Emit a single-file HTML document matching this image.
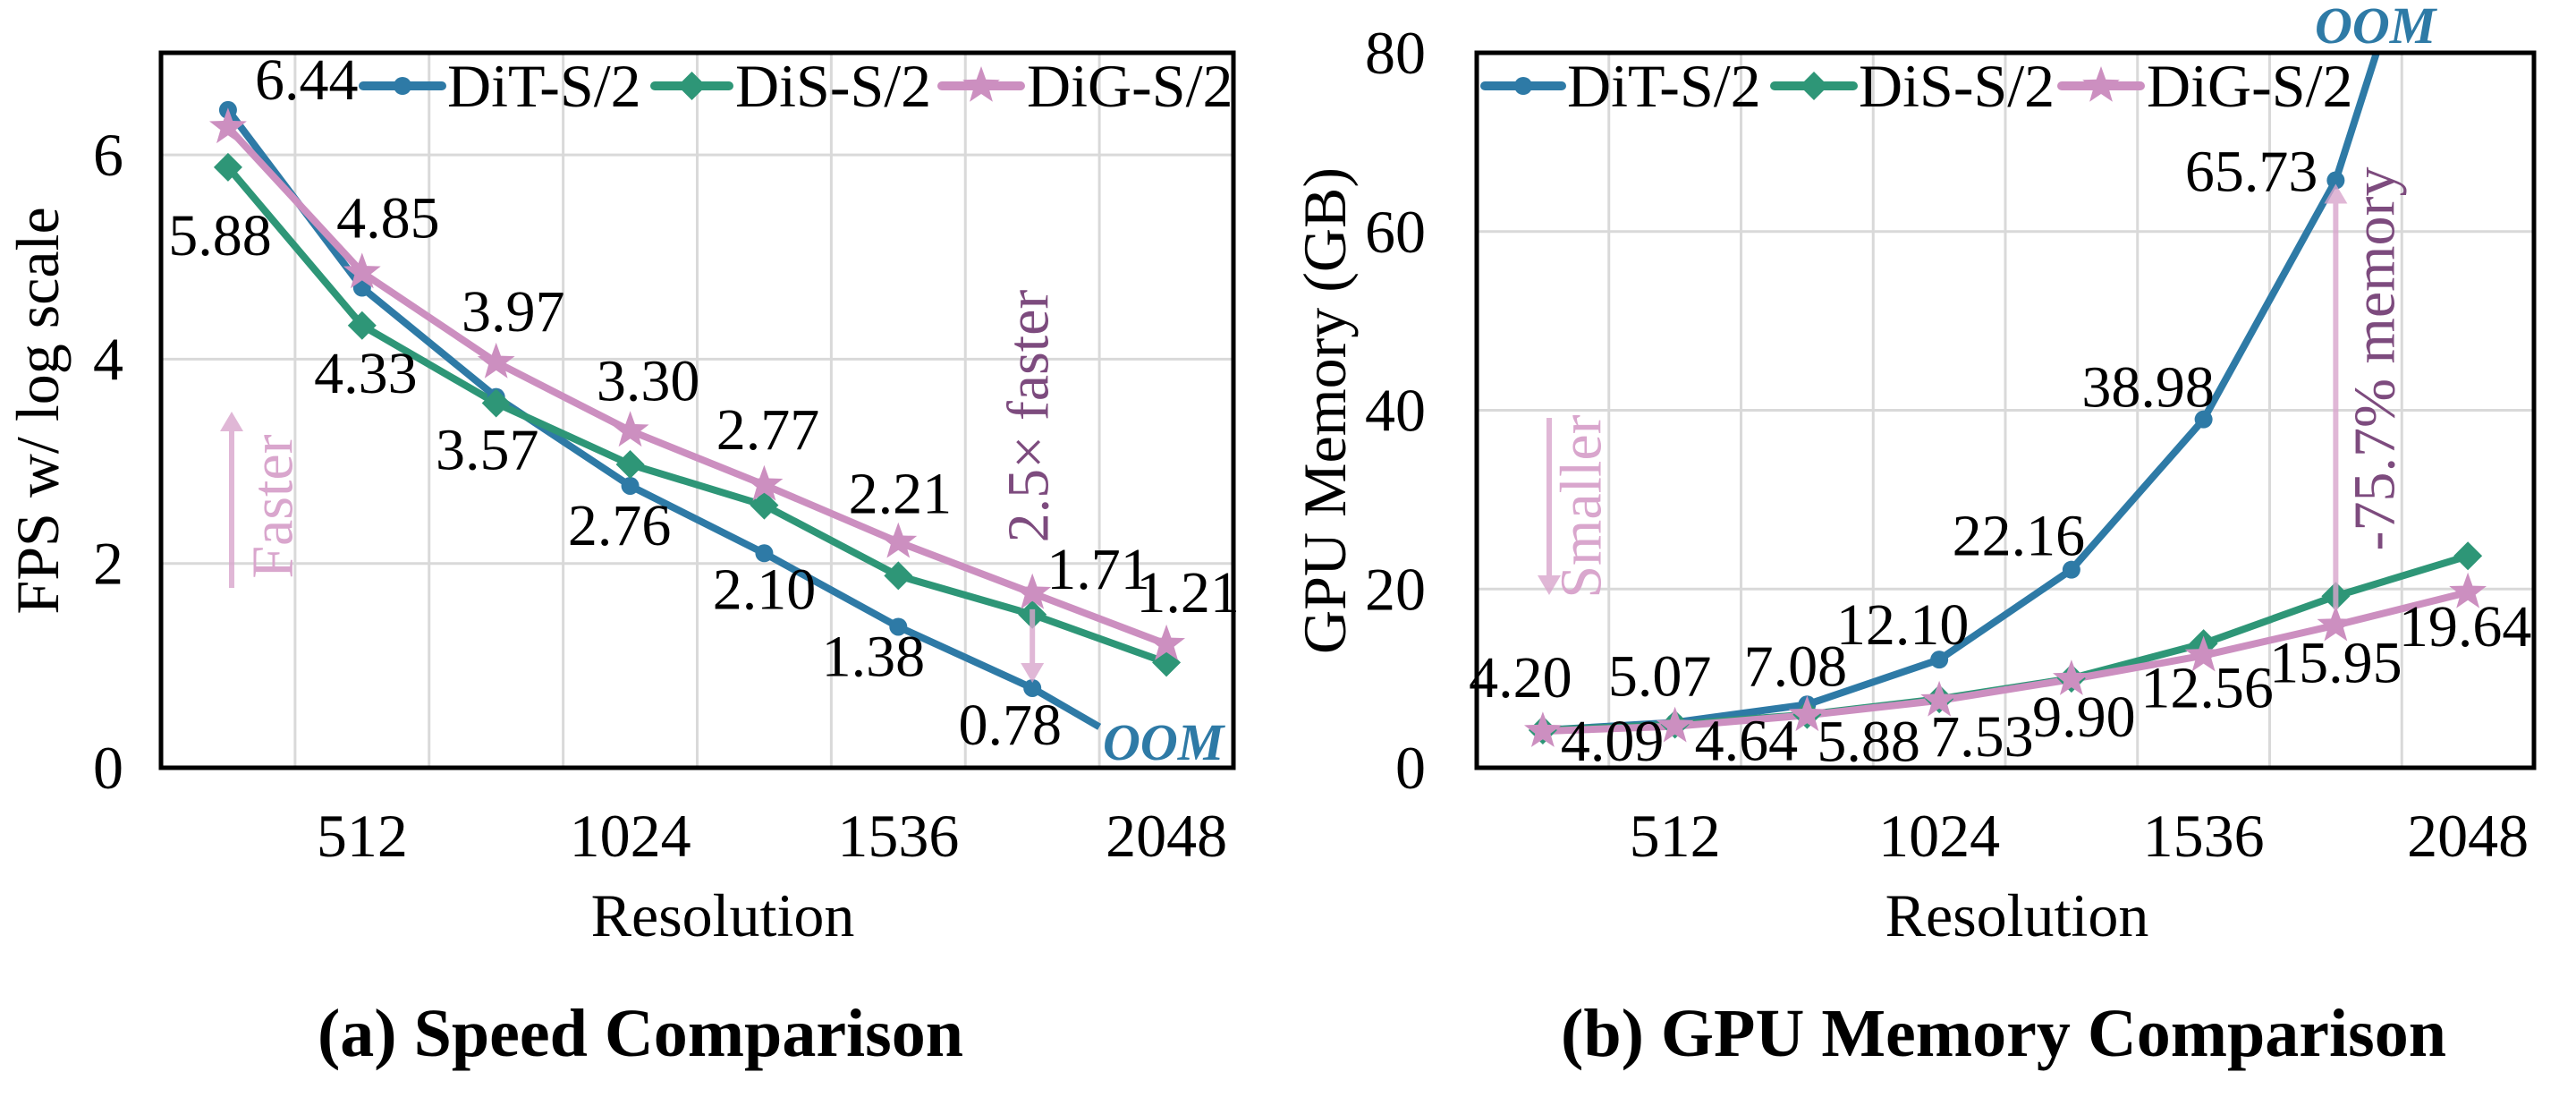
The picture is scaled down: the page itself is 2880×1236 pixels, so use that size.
<!DOCTYPE html>
<html><head><meta charset="utf-8">
<style>
html,body{margin:0;padding:0;background:#fff;}
svg{display:block;}
text{font-family:"Liberation Serif","Times New Roman",serif;}
</style></head>
<body>
<svg id="fig" width="2880" height="1236" viewBox="0 0 2880 1236" xmlns="http://www.w3.org/2000/svg" font-family="Liberation Serif, serif"></svg>
<script>
// ---- data ----
const categories = [256, 512, 768, 1024, 1280, 1536, 1792, 2048];
const xTickLabels = ['', '512', '', '1024', '', '1536', '', '2048'];
const speedTicks = [0, 2, 4, 6];
const memTicks = [0, 20, 40, 60, 80];
const speedDiT = [6.44, 4.70, 3.63, 2.76, 2.10, 1.38, 0.78, null];
const speedDiS = [5.88, 4.33, 3.57, 2.97, 2.57, 1.88, 1.50, 1.03];
const speedDiG = [6.27, 4.85, 3.97, 3.30, 2.77, 2.21, 1.71, 1.21];
const speedDiTTail = [6.5, 0.40];   // [category index, value] of OOM tail end
const memDiT = [4.20, 5.07, 7.08, 12.10, 22.16, 38.98, 65.73, null];
const memDiS = [4.20, 4.85, 5.95, 7.70, 10.00, 13.90, 19.20, 23.70];
const memDiG = [4.09, 4.64, 5.88, 7.53, 9.90, 12.56, 15.95, 19.64];
const memDiTTail = [7.0, 112];
const speedLabelsDiT = ['6.44', '', '', '2.76', '2.10', '1.38', '0.78', ''];
const speedLabelsDiS = ['5.88', '4.33', '3.57', '', '', '', '', ''];
const speedLabelsDiG = ['', '4.85', '3.97', '3.30', '2.77', '2.21', '1.71', '1.21'];
const memLabelsDiT = ['4.20', '5.07', '7.08', '12.10', '22.16', '38.98', '65.73', ''];
const memLabelsDiG = ['4.09', '4.64', '5.88', '7.53', '9.90', '12.56', '15.95', '19.64'];

const BLUE = '#2e7aa6', GREEN = '#2e9677', PINK = '#cc8fc0', PURPLE = '#7d4b7e', LPINK = '#d9a6cd';
const FONT = '"Liberation Serif", serif';
const NS = 'http://www.w3.org/2000/svg';
const svg = document.getElementById('fig');
function mk(tag, attrs, parent, text) {
  const e = document.createElementNS(NS, tag);
  for (const k in attrs) e.setAttribute(k, attrs[k]);
  if (tag === 'text') e.setAttribute('font-family', FONT);
  if (text !== undefined) e.textContent = text;
  (parent || svg).appendChild(e);
  return e;
}

function chart(cfg) {
  const g = mk('g', {});
  
  
  const L = cfg.left, R = cfg.right, T = 59, B = 858;
  const n = categories.length, cw = (R - L) / n;
  const xs = i => L + cw * (i + 0.5);
  const ys = v => B - (v - cfg.ymin) / (cfg.ymax - cfg.ymin) * (B - T);
  const clipId = cfg.name + '-clip';
  const cp = mk('clipPath', {id: clipId}, g);
  mk('rect', {x: L, y: T, width: R - L, height: B - T}, cp);
  for (let i = 1; i < n; i++) {
    const ln = mk('line', {x1: L + cw * i, x2: L + cw * i, y1: T, y2: B, stroke: '#d9d9d9', 'stroke-width': 3}, g);
    
    
  }
  cfg.ticks.forEach(t => {
    if (t > cfg.ymin && t < cfg.ymax) {
      const ln = mk('line', {x1: L, x2: R, y1: ys(t), y2: ys(t), stroke: '#d9d9d9', 'stroke-width': 3}, g);
      
      
    }
    const tl = mk('text', {x: cfg.ytickX, y: ys(t) + 23, 'font-size': 68, 'text-anchor': 'end'}, g, String(t));
    
    
  });
  categories.forEach((c, i) => {
    if (!xTickLabels[i]) return;
    const tl = mk('text', {x: xs(i), y: 957, 'font-size': 68, 'text-anchor': 'middle'}, g, xTickLabels[i]);
    
    
  });
  const plot = mk('g', {'clip-path': 'url(#' + clipId + ')'}, g);
  cfg.series.forEach(s => {
    const pts = [];
    s.data.forEach((v, i) => { if (v !== null) pts.push([xs(i), ys(v)]); });
    if (s.tail) pts.push([xs(s.tail[0]), ys(s.tail[1])]);
    const pl = mk('polyline', {points: pts.map(p => p.join(',')).join(' '), fill: 'none', stroke: s.color, 'stroke-width': 8, 'stroke-linejoin': 'round', 'stroke-linecap': 'butt'}, plot);
    
    
  });
  cfg.series.forEach(s => {
    s.data.forEach((v, i) => {
      if (v === null) return;
      const m = marker(s.marker, xs(i), ys(v), s.color, plot);
      
      
    });
  });
  const box = mk('rect', {x: L, y: T, width: R - L, height: B - T, fill: 'none', stroke: '#000', 'stroke-width': 5}, g);
  
  
  cfg.labels.forEach(lb => {
    lb.texts.forEach((t, i) => {
      if (!t) return;
      const o = lb.off[i];
      const v = lb.values[i];
      const tx = mk('text', {x: xs(i) + o[0], y: ys(v) + o[1], 'font-size': 66, 'text-anchor': o[2] || 'middle'}, g, t);
      
      
    });
  });
  return {xs, ys, g};
}

function marker(type, x, y, c, parent) {
  if (type === 'circle') return mk('circle', {cx: x, cy: y, r: 10, fill: c}, parent);
  if (type === 'diamond') return mk('polygon', {points: `${x},${y-16} ${x+16},${y} ${x},${y+16} ${x-16},${y}`, fill: c}, parent);
  const p = [];
  for (let k = 0; k < 10; k++) {
    const r = k % 2 ? 9 : 22, a = -Math.PI / 2 + k * Math.PI / 5;
    p.push((x + r * Math.cos(a)).toFixed(1) + ',' + (y + r * Math.sin(a)).toFixed(1));
  }
  return mk('polygon', {points: p.join(' '), fill: c}, parent);
}

function legend(items, g) {
  items.forEach(it => {
    const lg = mk('g', {}, g);
    
    
    mk('line', {x1: it.x1, x2: it.x2, y1: 96, y2: 96, stroke: it.color, 'stroke-width': 10, 'stroke-linecap': 'round'}, lg);
    marker(it.marker, (it.x1 + it.x2) / 2, 96, it.color, lg);
    mk('text', {x: it.tx, y: 119, 'font-size': 68}, lg, it.label);
  });
}

function arrow(x, y1, y2, color, w, g, name) {
  const dir = y2 > y1 ? 1 : -1;
  const a = mk('g', {opacity: 0.8}, g);
  
  
  mk('line', {x1: x, x2: x, y1: y1, y2: y2 - dir * 20, stroke: color, 'stroke-width': w}, a);
  mk('polygon', {points: `${x-13},${y2 - dir*22} ${x+13},${y2 - dir*22} ${x},${y2}`, fill: color}, a);
}

function rotText(x, y, t, size, color, g, name) {
  const e = mk('text', {x: x, y: y, transform: `rotate(-90 ${x} ${y})`, 'font-size': size, fill: color, 'text-anchor': 'middle', 'dominant-baseline': 'central'}, g, t);
  
  
  return e;
}

// ---- speed chart ----
const A = chart({
  name: 'speed-chart', left: 180, right: 1379, ymin: 0, ymax: 7, ticks: speedTicks, ytickX: 138,
  series: [
    {key: 'dit', data: speedDiT, color: BLUE, marker: 'circle', tail: speedDiTTail},
    {key: 'dis', data: speedDiS, color: GREEN, marker: 'diamond'},
    {key: 'dig', data: speedDiG, color: PINK, marker: 'star'}
  ],
  labels: [
    {texts: speedLabelsDiT, values: speedDiT, off: [[30,-12,'start'],[0,0],[0,0],[-12,66],[0,62],[-28,55],[-25,63],[0,0]]},
    {texts: speedLabelsDiS, values: speedDiS, off: [[-9,98],[4,75],[-10,74]]},
    {texts: speedLabelsDiG, values: speedDiG, off: [[0,0],[29,-39],[19,-35],[20,-34],[4,-40],[2,-32],[16,-5,'start'],[24,-36]]}
  ]
});
legend([
  {key: 'dit', x1: 406, x2: 494, tx: 500, label: 'DiT-S/2', color: BLUE, marker: 'circle'},
  {key: 'dis', x1: 732, x2: 815, tx: 822, label: 'DiS-S/2', color: GREEN, marker: 'diamond'},
  {key: 'dig', x1: 1053, x2: 1141, tx: 1148, label: 'DiG-S/2', color: PINK, marker: 'star'}
], A.g);
let t = mk('text', {x: 1233, y: 849, 'font-size': 58, 'font-weight': 'bold', 'font-style': 'italic', fill: BLUE}, A.g, 'OOM');
 
rotText(42, 459, 'FPS w/ log scale', 68, '#000', A.g, 'y-axis-title');
arrow(259, 657, 460, LPINK, 6, A.g, 'faster-arrow');
rotText(305, 566, 'Faster', 66, LPINK, A.g, 'faster-label');
arrow(A.xs(6), A.ys(speedDiG[6]) + 18, A.ys(speedDiT[6]) - 6, LPINK, 6, A.g, 'speedup-arrow');
rotText(1150, 465, '2.5× faster', 66, PURPLE, A.g, 'speedup-label');
t = mk('text', {x: 808, y: 1046, 'font-size': 68, 'text-anchor': 'middle'}, A.g, 'Resolution');
 
t = mk('text', {x: 716, y: 1180, 'font-size': 76, 'font-weight': 'bold', 'text-anchor': 'middle'}, A.g, '(a) Speed Comparison');
 

// ---- memory chart ----
const Bc = chart({
  name: 'memory-chart', left: 1651, right: 2833, ymin: 0, ymax: 80, ticks: memTicks, ytickX: 1594,
  series: [
    {key: 'dit', data: memDiT, color: BLUE, marker: 'circle', tail: memDiTTail},
    {key: 'dis', data: memDiS, color: GREEN, marker: 'diamond'},
    {key: 'dig', data: memDiG, color: PINK, marker: 'star'}
  ],
  labels: [
    {texts: memLabelsDiT, values: memDiT, off: [[-25,-37],[-17,-30],[-13,-21],[-41,-17],[-59,-16],[-62,-14],[-20,12,'end']]},
    {texts: memLabelsDiG, values: memDiG, off: [[20,33,'start'],[22,38,'start'],[11,51,'start'],[-10,62,'start'],[14,64],[4,58],[0,64],[-3,60]]}
  ]
});
legend([
  {key: 'dit', x1: 1660, x2: 1746, tx: 1752, label: 'DiT-S/2', color: BLUE, marker: 'circle'},
  {key: 'dis', x1: 1984, x2: 2072, tx: 2078, label: 'DiS-S/2', color: GREEN, marker: 'diamond'},
  {key: 'dig', x1: 2305, x2: 2393, tx: 2400, label: 'DiG-S/2', color: PINK, marker: 'star'}
], Bc.g);
t = mk('text', {x: 2588, y: 48, 'font-size': 58, 'font-weight': 'bold', 'font-style': 'italic', fill: BLUE}, Bc.g, 'OOM');
 
rotText(1481, 459, 'GPU Memory (GB)', 68, '#000', Bc.g, 'y-axis-title');
arrow(1732, 467, 665, LPINK, 6, Bc.g, 'smaller-arrow');
rotText(1768, 566, 'Smaller', 66, LPINK, Bc.g, 'smaller-label');
arrow(Bc.xs(6), Bc.ys(memDiG[6]) - 18, Bc.ys(memDiT[6]) + 4, LPINK, 6, Bc.g, 'memory-reduction-arrow');
rotText(2655, 401, '-75.7% memory', 66, PURPLE, Bc.g, 'memory-reduction-label');
t = mk('text', {x: 2255, y: 1046, 'font-size': 68, 'text-anchor': 'middle'}, Bc.g, 'Resolution');
 
t = mk('text', {x: 2240, y: 1180, 'font-size': 76, 'font-weight': 'bold', 'text-anchor': 'middle'}, Bc.g, '(b) GPU Memory Comparison');
 
</script>
</body></html>
